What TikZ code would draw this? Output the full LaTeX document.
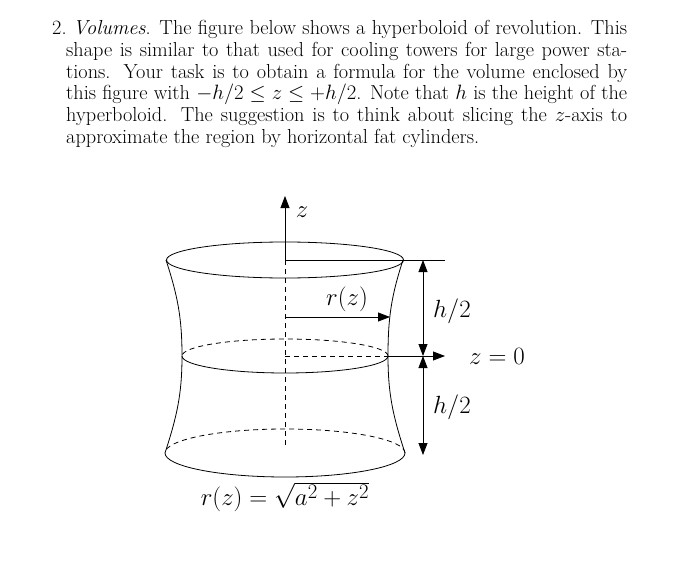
\documentclass[tikz,border=0pt]{standalone}
\usetikzlibrary{arrows.meta}
\begin{document}
\begin{tikzpicture}[x=1pt,y=-1pt,
  ln/.style={line width=0.8pt},
  dsh/.style={line width=0.8pt,dash pattern=on 5pt off 4pt},
  tip/.style={-{Triangle[length=12pt,width=9pt]}},
  lbl/.style={font=\fontsize{28}{32}\selectfont,inner sep=0pt}]
\useasboundingbox (0,0) rectangle (675,578);
\node[anchor=north west,inner sep=0pt,text width=575pt,align=justify,font=\fontsize{20.3}{21.8}\selectfont] (txt) at (52,20)
{\hangindent=14pt\hangafter=1 \noindent 2.~\emph{Volumes}. The figure below shows a hyperboloid of revolution. This\linebreak
shape is similar to that used for cooling towers for large power sta-\linebreak
tions. Your task is to obtain a formula for the volume enclosed by\linebreak
this figure with $-h/2\le z\le +h/2$. Note that $h$ is the height of the\linebreak
hyperboloid. The suggestion is to think about slicing the $z$-axis to\linebreak
approximate the region by horizontal fat cylinders.\par};
\coordinate (ztip) at (285,196);
\coordinate (ctop) at (285,260);
\coordinate (cmid) at (285,356);
\coordinate (cbot) at (285,447);
\coordinate (tr) at (403,260);
\coordinate (tl) at (166,260);
\coordinate (ml) at (182,356);
\coordinate (mr) at (388,356);
\coordinate (bl) at (165,453);
\coordinate (br) at (405,453);
\draw[ln,tip] (ctop) -- (ztip);
\draw[dsh] (ctop) -- (cbot);
\node[lbl] (zl) at (302,212) {$z$};
\draw[ln] (285,260) ellipse [x radius=118.5, y radius=18];
\draw[ln] (tl) to[out=-72,in=90] (ml) to[out=-90,in=72] (bl);
\draw[ln] (tr) to[out=-108,in=90] (mr) to[out=-90,in=108] (br);
\draw[ln] (mr) arc[start angle=0,end angle=180,x radius=103,y radius=17];
\draw[dsh] (mr) arc[start angle=0,end angle=-180,x radius=103,y radius=17];
\draw[ln] (br) arc[start angle=0,end angle=180,x radius=120,y radius=24];
\draw[dsh] (br) arc[start angle=0,end angle=-180,x radius=120,y radius=24];
\coordinate (trx) at (445,260);
\draw[ln] (ctop) -- (trx);
\coordinate (ra) at (285,317);
\coordinate (rb) at (390,317);
\draw[ln,tip] (ra) -- (rb);
\node[lbl] (rl) at (347,299) {$r(z)$};
\draw[dsh] (cmid) -- (mr);
\coordinate (zr) at (445,356);
\draw[ln,tip] (mr) -- (zr);
\node[lbl] (z0) at (497,356) {$z=0$};
\coordinate (d1) at (423,260);
\coordinate (d2) at (423,356);
\coordinate (d3) at (423,455);
\draw[ln,{Triangle[length=12pt,width=9pt]}-{Triangle[length=12pt,width=9pt]}] (d1) -- (d2);
\draw[ln,{Triangle[length=12pt,width=9pt]}-{Triangle[length=12pt,width=9pt]}] (d2) -- (d3);
\node[lbl] (h1) at (452,311) {$h/2$};
\node[lbl] (h2) at (452,407) {$h/2$};
\node[lbl] (f) at (285,497) {$r(z)=\sqrt{a^2+z^2}$};
\end{tikzpicture}
\end{document}
